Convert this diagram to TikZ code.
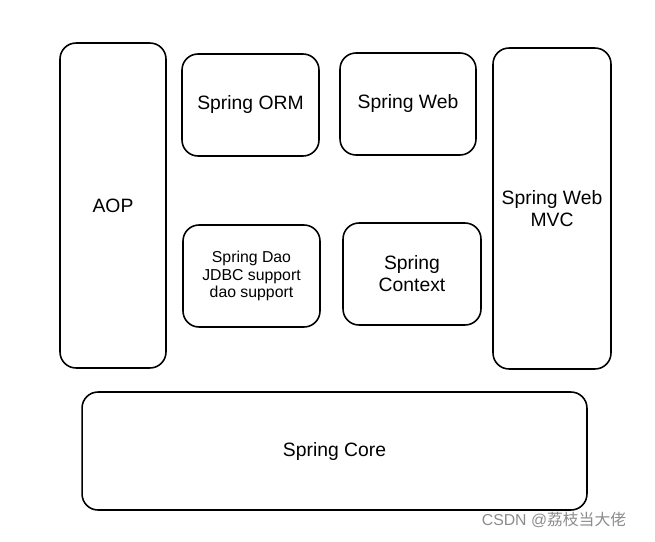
\documentclass[tikz,border=0pt]{standalone}
\usepackage{fontspec}
\setmainfont{Liberation Sans}
\newfontfamily\cjk{Noto Sans CJK SC}
\begin{document}
\begin{tikzpicture}[x=0.02cm,y=-0.02cm,
    layer/.style={draw, line width=0.9pt, rounded corners=0.32cm, align=center,
                  font=\fontsize{11}{12.5}\selectfont, inner sep=0pt}]
    \useasboundingbox (0,0) rectangle (655,541);
    \node[layer, minimum width=2.12cm, minimum height=6.5cm] (aop) at (113,205.5) {AOP};
    \node[layer, minimum width=2.74cm, minimum height=2.04cm] (orm) at (250.5,105) {Spring ORM};
    \node[layer, minimum width=2.72cm, minimum height=2.04cm] (web) at (408,104) {Spring Web};
    \node[layer, minimum width=2.36cm, minimum height=6.42cm] (mvc) at (552,208.5) {Spring Web\\MVC};
    \node[layer, minimum width=2.74cm, minimum height=2.04cm,
          font=\fontsize{9}{10}\selectfont] (dao) at (251.5,276) {Spring Dao\\JDBC support\\dao support};
    \node[layer, minimum width=2.76cm, minimum height=2.04cm] (ctx) at (412,274) {Spring\\Context};
    \node[layer, minimum width=10.1cm, minimum height=2.36cm] (core) at (334.5,451) {Spring Core};
    \node[text=black!45, font=\fontsize{9}{10}\selectfont] (mark) at (554,520) {CSDN @{\cjk 荔枝当大佬}};
\end{tikzpicture}
\end{document}
